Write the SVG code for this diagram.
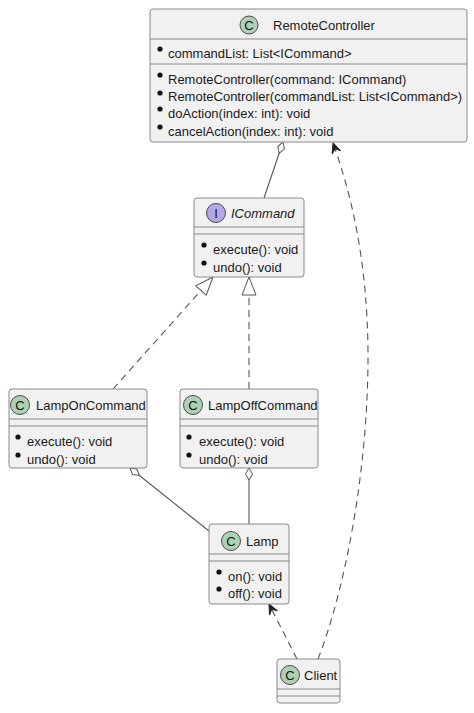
<svg xmlns="http://www.w3.org/2000/svg" width="474" height="713" viewBox="0 0 474 713">
<style>
.box{fill:#F1F1F1;stroke:#8a8a8a;stroke-width:1}
.sep{stroke:#8a8a8a;stroke-width:1}
.cc{fill:#ADD1B2;stroke:#4a4a4a;stroke-width:1}
.ic{fill:#B4A7E5;stroke:#4a4a4a;stroke-width:1}
.letter{font-family:"Liberation Sans",Arial,sans-serif;font-size:13px;fill:#111;text-anchor:middle}
.title{font-family:"Liberation Sans",Arial,sans-serif;font-size:13px;fill:#1a1a1a}
.mem{font-family:"Liberation Sans",Arial,sans-serif;font-size:13px;fill:#1a1a1a}
.bul{fill:#111}
.line{fill:none;stroke:#555;stroke-width:1.1}
.dash{stroke-dasharray:7,5}
</style>
<defs>
<marker id="diamond" viewBox="-1 -5 15 10" refX="0" refY="0" markerWidth="15" markerHeight="10" markerUnits="userSpaceOnUse" orient="auto">
<path d="M0,0 L6,-3.5 L12,0 L6,3.5 Z" fill="#fff" stroke="#555" stroke-width="1" stroke-dasharray="none"/>
</marker>
<marker id="tri" viewBox="-20 -9 22 18" refX="0" refY="0" markerWidth="22" markerHeight="18" markerUnits="userSpaceOnUse" orient="auto">
<path d="M0,0 L-18,-7 L-18,7 Z" fill="#fff" stroke="#555" stroke-width="1" stroke-dasharray="none"/>
</marker>
<marker id="arrow" viewBox="-11 -6 12 12" refX="0" refY="0" markerWidth="12" markerHeight="12" markerUnits="userSpaceOnUse" orient="auto">
<path d="M0,0 L-10,-4.5 L-6,0 L-10,4.5 Z" fill="#222" stroke="#222" stroke-width="1" stroke-dasharray="none"/>
</marker>
</defs>
<rect width="474" height="713" fill="#fff"/>

<g id="connectors">
<path class="line" d="M283,142 L264,198" marker-start="url(#diamond)"/>
<path class="line dash" d="M113,389 L213,277" marker-end="url(#tri)"/>
<path class="line dash" d="M249,389 L249,277" marker-end="url(#tri)"/>
<path class="line" d="M130,468 L209,531" marker-start="url(#diamond)"/>
<path class="line" d="M249,468 L249,524" marker-start="url(#diamond)"/>
<path class="line dash" d="M297,659 L269,604" marker-end="url(#arrow)"/>
<path class="line dash" d="M318,659 C345,590 368,470 368,357 C368,260 350,190 333,143" marker-end="url(#arrow)"/>
</g>

<g id="RemoteController">
<rect class="box" x="150" y="9" width="317" height="133" rx="3"/>
<line class="sep" x1="150" y1="39" x2="467" y2="39"/>
<line class="sep" x1="150" y1="64" x2="467" y2="64"/>
<circle class="cc" cx="249" cy="25" r="9"/>
<text class="letter" x="249" y="29.5">C</text>
<text class="title" x="273" y="30">RemoteController</text>
<circle class="bul" cx="160" cy="49" r="2.6"/>
<text class="mem" x="168" y="58">commandList: List&lt;ICommand&gt;</text>
<circle class="bul" cx="160" cy="75" r="2.6"/>
<text class="mem" x="168" y="83.5">RemoteController(command: ICommand)</text>
<circle class="bul" cx="160" cy="93" r="2.6"/>
<text class="mem" x="168" y="101">RemoteController(commandList: List&lt;ICommand&gt;)</text>
<circle class="bul" cx="160" cy="109" r="2.6"/>
<text class="mem" x="168" y="118">doAction(index: int): void</text>
<circle class="bul" cx="160" cy="127" r="2.6"/>
<text class="mem" x="168" y="135.5">cancelAction(index: int): void</text>
</g>

<g id="ICommand">
<rect class="box" x="194" y="198" width="110" height="79" rx="3"/>
<line class="sep" x1="194" y1="227" x2="304" y2="227"/>
<line class="sep" x1="194" y1="234" x2="304" y2="234"/>
<circle class="ic" cx="216" cy="213" r="9.5"/>
<text class="letter" x="216" y="217.5">I</text>
<text class="title" x="231" y="218" font-style="italic">ICommand</text>
<circle class="bul" cx="204" cy="245" r="2.6"/>
<text class="mem" x="213" y="253.5">execute(): void</text>
<circle class="bul" cx="204" cy="263" r="2.6"/>
<text class="mem" x="213" y="271.5">undo(): void</text>
</g>

<g id="LampOnCommand">
<rect class="box" x="9" y="389" width="138" height="79" rx="3"/>
<line class="sep" x1="9" y1="419" x2="147" y2="419"/>
<line class="sep" x1="9" y1="426" x2="147" y2="426"/>
<circle class="cc" cx="20" cy="405" r="9.5"/>
<text class="letter" x="20" y="409.5">C</text>
<text class="title" x="36" y="410">LampOnCommand</text>
<circle class="bul" cx="18" cy="437" r="2.6"/>
<text class="mem" x="27" y="445.5">execute(): void</text>
<circle class="bul" cx="18" cy="455" r="2.6"/>
<text class="mem" x="27" y="463.5">undo(): void</text>
</g>

<g id="LampOffCommand">
<rect class="box" x="180" y="389" width="138" height="79" rx="3"/>
<line class="sep" x1="180" y1="419" x2="318" y2="419"/>
<line class="sep" x1="180" y1="426" x2="318" y2="426"/>
<circle class="cc" cx="193" cy="405" r="9.5"/>
<text class="letter" x="193" y="409.5">C</text>
<text class="title" x="208" y="410">LampOffCommand</text>
<circle class="bul" cx="189" cy="437" r="2.6"/>
<text class="mem" x="199" y="445.5">execute(): void</text>
<circle class="bul" cx="189" cy="455" r="2.6"/>
<text class="mem" x="199" y="463.5">undo(): void</text>
</g>

<g id="Lamp">
<rect class="box" x="209" y="524" width="80" height="80" rx="3"/>
<line class="sep" x1="209" y1="554" x2="289" y2="554"/>
<line class="sep" x1="209" y1="561" x2="289" y2="561"/>
<circle class="cc" cx="231" cy="541" r="9.5"/>
<text class="letter" x="231" y="545.5">C</text>
<text class="title" x="246" y="546">Lamp</text>
<circle class="bul" cx="219" cy="572" r="2.6"/>
<text class="mem" x="228" y="580.5">on(): void</text>
<circle class="bul" cx="219" cy="589" r="2.6"/>
<text class="mem" x="228" y="597.5">off(): void</text>
</g>

<g id="Client">
<rect class="box" x="277" y="659" width="63" height="44" rx="3"/>
<line class="sep" x1="277" y1="689" x2="340" y2="689"/>
<line class="sep" x1="277" y1="696" x2="340" y2="696"/>
<circle class="cc" cx="290" cy="675" r="9.5"/>
<text class="letter" x="290" y="679.5">C</text>
<text class="title" x="304" y="680">Client</text>
</g>
</svg>
